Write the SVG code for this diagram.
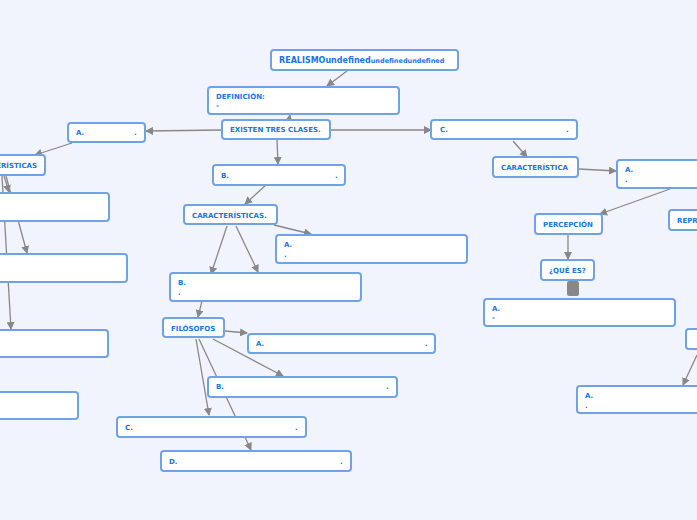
<svg xmlns="http://www.w3.org/2000/svg" width="697" height="520" viewBox="0 0 697 520">
<defs>
<marker id="ar" markerWidth="8" markerHeight="8" refX="7" refY="4" orient="auto" markerUnits="userSpaceOnUse"><path d="M0,0 L8,4 L0,8 z" fill="#888"/></marker>
<style>
.n{fill:#fff;stroke:#6fa3e8;stroke-width:2}
.t{font-family:"DejaVu Sans",sans-serif;font-weight:bold;font-size:7px;fill:#1a73e8}
.c line{stroke:#888;stroke-width:1.3;marker-end:url(#ar)}
</style>
</defs>
<rect width="697" height="520" fill="#f1f4fd"/>
<g class="c" id="connectors">
<line x1="347" y1="71" x2="327" y2="86"/>
<line x1="289" y1="120" x2="290" y2="115"/>
<line x1="222" y1="130" x2="146" y2="131"/>
<line x1="331" y1="130" x2="431" y2="130"/>
<line x1="277" y1="140" x2="278" y2="164"/>
<line x1="72" y1="143" x2="35" y2="155"/>
<line x1="4" y1="176" x2="9" y2="192"/>
<line x1="6" y1="176" x2="27" y2="253"/>
<line x1="2" y1="176" x2="11" y2="329"/>
<line x1="266" y1="185" x2="245" y2="204"/>
<line x1="274" y1="225" x2="311" y2="234"/>
<line x1="236" y1="226" x2="258" y2="272"/>
<line x1="227" y1="226" x2="211" y2="274"/>
<line x1="202" y1="301" x2="198" y2="317"/>
<line x1="225" y1="331" x2="247" y2="333"/>
<line x1="213" y1="339" x2="283" y2="376"/>
<line x1="196" y1="339" x2="209" y2="415"/>
<line x1="199" y1="339" x2="251" y2="450"/>
<line x1="513" y1="141" x2="527" y2="157"/>
<line x1="579" y1="169" x2="616" y2="171"/>
<line x1="670" y1="189" x2="600" y2="214"/>
<line x1="568" y1="235" x2="568" y2="259"/>
<line x1="697" y1="355" x2="683" y2="385"/>
</g>
<g id="root"><rect class="n" x="271" y="50" width="187" height="20" rx="3"/><text class="t" x="279" y="63" style="font-size:8px">REALISMOundefined<tspan style="font-size:6.5px">undefinedundefined</tspan></text></g>
<g id="def"><rect class="n" x="208" y="87" width="191" height="27" rx="3"/><text class="t" x="216" y="99">DEFINICIÓN:</text><text class="t" x="216" y="108">-</text></g>
<g id="existen"><rect class="n" x="222" y="120" width="108" height="19" rx="3"/><text class="t" x="230" y="132">EXISTEN TRES CLASES.</text></g>
<g id="a1"><rect class="n" x="68" y="123" width="77" height="19" rx="3"/><text class="t" x="76" y="135">A.</text><text class="t" x="134" y="135">.</text></g>
<g id="c1"><rect class="n" x="431" y="120" width="146" height="19" rx="3"/><text class="t" x="440" y="132">C.</text><text class="t" x="566" y="132">.</text></g>
<g id="car1"><rect class="n" x="-5" y="155" width="50" height="20" rx="3"/><text class="t" x="37" y="168" text-anchor="end">CARACTERÍSTICAS</text></g>
<g id="l1"><rect class="n" x="-5" y="193" width="114" height="28" rx="3"/></g>
<g id="l2"><rect class="n" x="-5" y="254" width="132" height="28" rx="3"/></g>
<g id="l3"><rect class="n" x="-5" y="330" width="113" height="27" rx="3"/></g>
<g id="l4"><rect class="n" x="-5" y="392" width="83" height="27" rx="3"/></g>
<g id="b1"><rect class="n" x="213" y="165" width="132" height="20" rx="3"/><text class="t" x="221" y="178">B.</text><text class="t" x="335" y="178">.</text></g>
<g id="car2"><rect class="n" x="184" y="205" width="93" height="19" rx="3"/><text class="t" x="192" y="218">CARACTERÍSTICAS.</text></g>
<g id="a2"><rect class="n" x="276" y="235" width="191" height="28" rx="3"/><text class="t" x="284" y="247">A.</text><text class="t" x="284" y="257">.</text></g>
<g id="b2"><rect class="n" x="170" y="273" width="191" height="28" rx="3"/><text class="t" x="178" y="285">B.</text><text class="t" x="178" y="295">.</text></g>
<g id="fil"><rect class="n" x="163" y="318" width="61" height="19" rx="3"/><text class="t" x="171" y="331">FILÓSOFOS</text></g>
<g id="fa"><rect class="n" x="248" y="334" width="187" height="19" rx="3"/><text class="t" x="256" y="346">A.</text><text class="t" x="425" y="346">.</text></g>
<g id="fb"><rect class="n" x="208" y="377" width="189" height="20" rx="3"/><text class="t" x="216" y="389">B.</text><text class="t" x="386" y="389">.</text></g>
<g id="fc"><rect class="n" x="117" y="417" width="189" height="20" rx="3"/><text class="t" x="125" y="430">C.</text><text class="t" x="295" y="430">.</text></g>
<g id="fd"><rect class="n" x="161" y="451" width="190" height="20" rx="3"/><text class="t" x="169" y="464">D.</text><text class="t" x="340" y="464">.</text></g>
<g id="car3"><rect class="n" x="493" y="157" width="85" height="20" rx="3"/><text class="t" x="501" y="170">CARACTERÍSTICA</text></g>
<g id="a3"><rect class="n" x="617" y="160" width="85" height="28" rx="3"/><text class="t" x="625" y="172">A.</text><text class="t" x="625" y="182">.</text></g>
<g id="perc"><rect class="n" x="535" y="214" width="67" height="20" rx="3"/><text class="t" x="543" y="227">PERCEPCIÓN</text></g>
<g id="repr"><rect class="n" x="669" y="210" width="33" height="20" rx="3"/><text class="t" x="677" y="223">REPRESENTACIÓN</text></g>
<g id="que"><rect class="n" x="541" y="260" width="53" height="20" rx="3"/><text class="t" x="549" y="273">¿QUÉ ES?</text></g>
<g id="gray"><rect x="567" y="281" width="12" height="15" rx="2" fill="#888"/></g>
<g id="a4"><rect class="n" x="484" y="299" width="191" height="27" rx="3"/><text class="t" x="492" y="311">A.</text><text class="t" x="492" y="320">-</text></g>
<g id="r5"><rect class="n" x="686" y="329" width="16" height="20" rx="3"/></g>
<g id="a5"><rect class="n" x="577" y="386" width="125" height="27" rx="3"/><text class="t" x="585" y="398">A.</text><text class="t" x="585" y="408">.</text></g>
</svg>
